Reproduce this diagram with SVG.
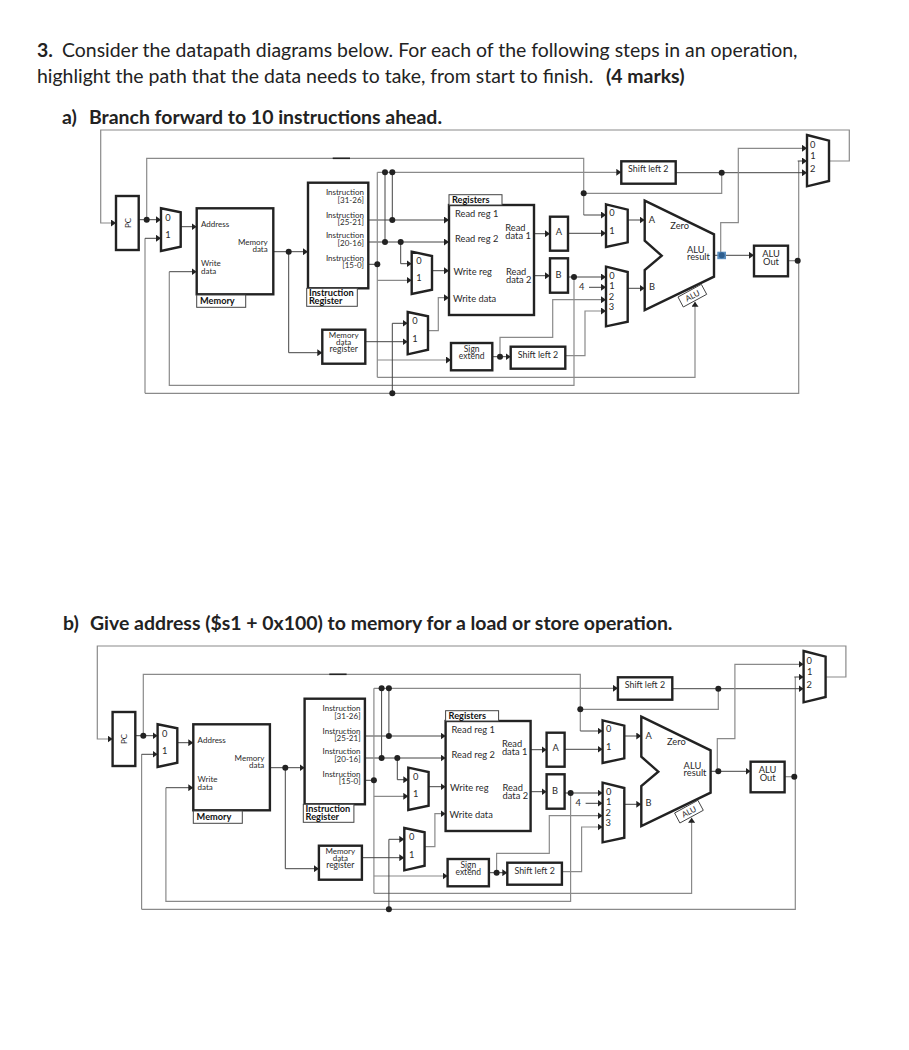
<svg xmlns="http://www.w3.org/2000/svg" width="909" height="1050" viewBox="0 0 909 1050">
<style>
text{font-family:"Lato","Liberation Sans",sans-serif;fill:#2a2a2a}
.h{font-size:19.45px;fill:#222}
.hb{font-size:19.45px;font-weight:700;fill:#222}
.t{font-size:9.3px;dominant-baseline:central}
.s{font-size:8px}
.r{font-size:8.5px}
.m{text-anchor:middle}
.e{text-anchor:end}
.lb{font-size:9.2px;font-weight:700;dominant-baseline:central;fill:#111}
.n{fill:#fff;stroke:#222;stroke-width:2.4;stroke-linejoin:miter}
.l{fill:#fff;stroke:#444;stroke-width:1}
.g{fill:none;stroke:#8a8a8a;stroke-width:1.2}
.d{fill:none;stroke:#444;stroke-width:1}
.a{marker-end:url(#ah)}
.dot{fill:#222}
</style>
<defs>
<marker id="ah" markerUnits="userSpaceOnUse" markerWidth="6" markerHeight="7" refX="5" refY="3.5" orient="auto"><path d="M0 0L5 3.5L0 7Z" fill="#222"/></marker>
</defs>
<rect width="909" height="1050" fill="#fff"/>
<g id="heading">
<text x="37" y="57" class="hb">3.</text>
<text x="62" y="57" class="h">Consider the datapath diagrams below. For each of the following steps in an operation,</text>
<text x="37" y="83" class="h">highlight the path that the data needs to take, from start to finish.</text>
<text x="606" y="83" class="hb">(4 marks)</text>
<text x="62" y="124" class="hb">a)</text>
<text x="89" y="124" class="hb">Branch forward to 10 instructions ahead.</text>
<text x="63" y="630" class="hb">b)</text>
<text x="90" y="630" class="hb">Give address ($s1 + 0x100) to memory for a load or store operation.</text>
</g>

<g id="diagram-a">
<g id="a-connectors">
<path class="g a" d="M829 161H849.3V130H100.7V223H116"/>
<path class="g" d="M146.7 219.7V158.3H583.7V215"/>
<path class="d a" d="M583.7 215H606"/>
<path class="d" d="M332.7 158.3H350" style="stroke-width:1.6;stroke:#222"/>
<path class="d a" d="M138.7 219.7H161"/>
<path class="d a" d="M180.7 226.7H196.7"/>
<path class="g" d="M145 393.3V238.3"/>
<path class="d a" d="M145 238.3H161"/>
<path class="g" d="M145 393.3H798.7V161"/>
<path class="d a" d="M797.7 161H807"/>
<path class="g" d="M788 260.7H797.7"/>
<path class="g" d="M574 277V385.3H169.3V271.7"/>
<path class="d a" d="M169.3 271.7H196.7"/>
<path class="d a" d="M273.3 251.7H308"/>
<path class="d a" d="M288.7 251.7V352.7H322.3"/>
<path class="d a" d="M368.3 220H449"/>
<path class="d" d="M392.3 220V172.3"/>
<path class="d a" d="M368.3 242H449"/>
<path class="d" d="M385 242V172.3"/>
<path class="d a" d="M400.7 242V263.7H411.7"/>
<path class="d" d="M368.3 264.3H377.3"/>
<path class="g" d="M377.3 377.3V172.3"/>
<path class="g a" d="M377.3 172.3H621.3"/>
<path class="g a" d="M377.3 280.3H411.7"/>
<path class="g a" d="M377.3 360H451"/>
<path class="g a" d="M377.3 377.3H695V301.7"/>
<path class="d a" d="M392.3 393.3V323.3H407.7"/>
<path class="d a" d="M365.3 341.7H407.7"/>
<path class="g a" d="M428 330.7H438.3V297.7H449"/>
<path class="d a" d="M432 270.7H449"/>
<path class="d a" d="M534 233.7H550"/>
<path class="d a" d="M534 275.7H550"/>
<path class="d a" d="M568 233.3H606"/>
<path class="d a" d="M627.7 220H644.7"/>
<path class="d a" d="M627.7 288.3H644.7"/>
<path class="d a" d="M568 277H606"/>
<path class="d a" d="M589 287.3H606"/>
<path class="d a" d="M492.3 356.7H510.7"/>
<path class="g a" d="M500 356.7V337.3H552.7V299.7H606"/>
<path class="g a" d="M565.3 355.7H585V311H606"/>
<path class="d a" d="M675.7 172.7H807"/>
<path class="g" d="M583.7 193.3H721.7V172.7"/>
<path class="d a" d="M714 255.3H754"/>
<path class="g a" d="M720.7 255.3V222.7H738.3V148.3H807"/>
<rect x="717.3" y="251.7" width="8.7" height="7.5" fill="#5b8fc0"/>
<circle class="dot" cx="146.7" cy="219.7" r="3"/><circle class="dot" cx="288.7" cy="251.7" r="3"/><circle class="dot" cx="385" cy="172.3" r="3"/><circle class="dot" cx="392.3" cy="172.3" r="3"/><circle class="dot" cx="392.3" cy="220" r="3"/><circle class="dot" cx="385" cy="242" r="3"/><circle class="dot" cx="400.7" cy="242" r="3"/><circle class="dot" cx="377.3" cy="264.3" r="3"/><circle class="dot" cx="392.3" cy="393.3" r="3"/><circle class="dot" cx="583.7" cy="193.3" r="3"/><circle class="dot" cx="721.7" cy="172.7" r="3"/><circle class="dot" cx="574" cy="277" r="3"/><circle class="dot" cx="500" cy="356.7" r="3"/><circle class="dot" cx="797.7" cy="260.7" r="3"/><circle cx="721.7" cy="255.3" r="3" fill="#2f5f8f"/>
</g>
<g id="a-pc"><rect class="n" x="116" y="196" width="22.7" height="54"/><text class="t m s" transform="translate(127.5 223) rotate(-90)">PC</text></g>
<g id="a-mux-pc"><path class="n" d="M161 208.3L180.7 212.3V246.7L161 251Z"/><text class="t m" x="168" y="217">0</text><text class="t m" x="168" y="234.3">1</text></g>
<g id="a-memory"><rect class="n" x="196.7" y="208.3" width="76.6" height="86"/><text class="t s" x="201" y="224">Address</text><text class="t e s" x="267.7" y="241.8">Memory</text><text class="t e s" x="267.7" y="249.2">data</text><text class="t s" x="201" y="263.2">Write</text><text class="t s" x="201" y="270.8">data</text></g>
<g id="a-memory-label"><rect class="l" x="196.7" y="295" width="49" height="12.3"/><text class="lb" x="200" y="300.5">Memory</text></g>
<g id="a-ir"><rect class="n" x="308" y="182.7" width="60.3" height="105.6"/><text class="t e s" x="364" y="192.3">Instruction</text><text class="t e s" x="364" y="199.9">[31-26]</text><text class="t e s" x="364" y="214.6">Instruction</text><text class="t e s" x="364" y="222.2">[25-21]</text><text class="t e s" x="364" y="235.2">Instruction</text><text class="t e s" x="364" y="242.8">[20-16]</text><text class="t e s" x="364" y="257.6">Instruction</text><text class="t e s" x="364" y="265.2">[15-0]</text></g>
<g id="a-ir-label"><rect class="l" x="306.7" y="288.3" width="50.6" height="18"/><text class="lb" x="309" y="292.5">Instruction</text><text class="lb" x="309" y="300.2">Register</text></g>
<g id="a-mdr"><rect class="n" x="322.3" y="329.7" width="43" height="34"/><text class="t m s" x="343.7" y="334.8">Memory</text><text class="t m s" x="343.7" y="341.7">data</text><text class="t m r" x="343.7" y="348.6">register</text></g>
<g id="a-mux-reg"><path class="n" d="M411.7 251.7L432 256V289.7L411.7 294Z"/><text class="t m" x="419" y="260">0</text><text class="t m" x="419" y="277.7">1</text></g>
<g id="a-mux-data"><path class="n" d="M407.7 312L428 316.3V349.7L407.7 354.3Z"/><text class="t m" x="415" y="320.7">0</text><text class="t m" x="415" y="338.3">1</text></g>
<g id="a-registers"><rect class="n" x="449" y="205" width="85" height="110"/><text class="t" x="455" y="213.7">Read reg 1</text><text class="t" x="455" y="238.3">Read reg 2</text><text class="t" x="453.5" y="271.7">Write reg</text><text class="t" x="453" y="298.3">Write data</text><text class="t" x="505.3" y="227.4">Read</text><text class="t" x="505.3" y="235.2">data 1</text><text class="t" x="506" y="271.4">Read</text><text class="t" x="506" y="279">data 2</text></g>
<g id="a-registers-label"><rect class="l" x="449" y="194.7" width="53" height="10.3"/><text class="lb" x="452" y="199.5">Registers</text></g>
<g id="a-reg-a"><rect class="n" x="550" y="216.7" width="18" height="34"/><text class="t m" x="559" y="231.7">A</text></g>
<g id="a-reg-b"><rect class="n" x="550" y="258.3" width="18" height="34.4"/><text class="t m" x="558.5" y="274">B</text></g>
<g id="a-mux-a"><path class="n" d="M606 204.3L627.7 209.7V242.3L606 247Z"/><text class="t m" x="612" y="212.7">0</text><text class="t m" x="612" y="230.3">1</text></g>
<g id="a-mux-b"><path class="n" d="M606 266.7L627.7 272V321.7L606 326.3Z"/><text class="t m" x="612" y="275.7">0</text><text class="t m" x="612" y="285.5">1</text><text class="t m" x="611.5" y="296.7">2</text><text class="t m" x="611.5" y="306.7">3</text></g>
<text id="a-four" class="t m" x="581.7" y="286.3">4</text>
<g id="a-alu"><path class="n" d="M644.7 200.7L714 234.3V276.7L644.7 310V270L661.7 255.7L644.7 240.7Z"/><text class="t m" x="652" y="219">A</text><text class="t m" x="652" y="286.3">B</text><text class="t m" x="679.7" y="225">Zero</text><text class="t" x="687" y="249">ALU</text><text class="t" x="687" y="256.9">result</text></g>
<g id="a-alu-control"><path class="l" d="M678 297L701.3 284.3L706.7 294.3L683.3 307Z"/><text class="t m s" transform="translate(692.3 295.7) rotate(-27)">ALU</text></g>
<g id="a-alu-out"><rect class="n" x="754" y="245.7" width="34" height="30.6"/><text class="t m" x="771" y="253.6">ALU</text><text class="t m" x="771" y="261.3">Out</text></g>
<g id="a-shift-top"><rect class="n" x="621.3" y="161.3" width="54.4" height="22.4"/><text class="t m s" x="648.3" y="168.7" style="font-size:8.9px">Shift left 2</text></g>
<g id="a-mux-pcsrc"><path class="n" d="M807 135L829 140.7V181L807 186.3Z"/><text class="t m" x="812.7" y="144.7">0</text><text class="t m" x="813" y="155.3">1</text><text class="t m" x="812.7" y="168">2</text></g>
<g id="a-sign"><rect class="n" x="451" y="343" width="41.3" height="27.3"/><text class="t m r" x="471.7" y="349">Sign</text><text class="t m r" x="471.7" y="356.3">extend</text></g>
<g id="a-shift-bottom"><rect class="n" x="510.7" y="346.7" width="54.6" height="22"/><text class="t m" x="538" y="354" style="font-size:8.9px">Shift left 2</text></g>
</g>

<g id="diagram-b" transform="translate(-3.4 516)">
<g id="b-connectors">
<path class="g a" d="M829 161H849.3V130H100.7V223H116"/>
<path class="g" d="M146.7 219.7V158.3H583.7V215"/>
<path class="d a" d="M583.7 215H606"/>
<path class="d" d="M332.7 158.3H350" style="stroke-width:1.6;stroke:#222"/>
<path class="d a" d="M138.7 219.7H161"/>
<path class="d a" d="M180.7 226.7H196.7"/>
<path class="g" d="M145 393.3V238.3"/>
<path class="d a" d="M145 238.3H161"/>
<path class="g" d="M145 393.3H798.7V161"/>
<path class="d a" d="M797.7 161H807"/>
<path class="g" d="M788 260.7H797.7"/>
<path class="g" d="M574 277V385.3H169.3V271.7"/>
<path class="d a" d="M169.3 271.7H196.7"/>
<path class="d a" d="M273.3 251.7H308"/>
<path class="d a" d="M288.7 251.7V352.7H322.3"/>
<path class="d a" d="M368.3 220H449"/>
<path class="d" d="M392.3 220V172.3"/>
<path class="d a" d="M368.3 242H449"/>
<path class="d" d="M385 242V172.3"/>
<path class="d a" d="M400.7 242V263.7H411.7"/>
<path class="d" d="M368.3 264.3H377.3"/>
<path class="g" d="M377.3 377.3V172.3"/>
<path class="g a" d="M377.3 172.3H621.3"/>
<path class="g a" d="M377.3 280.3H411.7"/>
<path class="g a" d="M377.3 360H451"/>
<path class="g a" d="M377.3 377.3H695V301.7"/>
<path class="d a" d="M392.3 393.3V323.3H407.7"/>
<path class="d a" d="M365.3 341.7H407.7"/>
<path class="g a" d="M428 330.7H438.3V297.7H449"/>
<path class="d a" d="M432 270.7H449"/>
<path class="d a" d="M534 233.7H550"/>
<path class="d a" d="M534 275.7H550"/>
<path class="d a" d="M568 233.3H606"/>
<path class="d a" d="M627.7 220H644.7"/>
<path class="d a" d="M627.7 288.3H644.7"/>
<path class="d a" d="M568 277H606"/>
<path class="d a" d="M589 287.3H606"/>
<path class="d a" d="M492.3 356.7H510.7"/>
<path class="g a" d="M500 356.7V337.3H552.7V299.7H606"/>
<path class="g a" d="M565.3 355.7H585V311H606"/>
<path class="d a" d="M675.7 172.7H807"/>
<path class="g" d="M583.7 193.3H721.7V172.7"/>
<path class="d a" d="M714 255.3H754"/>
<path class="g a" d="M720.7 255.3V222.7H738.3V148.3H807"/>
<circle class="dot" cx="146.7" cy="219.7" r="3"/><circle class="dot" cx="288.7" cy="251.7" r="3"/><circle class="dot" cx="385" cy="172.3" r="3"/><circle class="dot" cx="392.3" cy="172.3" r="3"/><circle class="dot" cx="392.3" cy="220" r="3"/><circle class="dot" cx="385" cy="242" r="3"/><circle class="dot" cx="400.7" cy="242" r="3"/><circle class="dot" cx="377.3" cy="264.3" r="3"/><circle class="dot" cx="392.3" cy="393.3" r="3"/><circle class="dot" cx="583.7" cy="193.3" r="3"/><circle class="dot" cx="721.7" cy="172.7" r="3"/><circle class="dot" cx="574" cy="277" r="3"/><circle class="dot" cx="500" cy="356.7" r="3"/><circle class="dot" cx="797.7" cy="260.7" r="3"/><circle class="dot" cx="721.7" cy="255.3" r="3"/>
</g>
<g id="b-pc"><rect class="n" x="116" y="196" width="22.7" height="54"/><text class="t m s" transform="translate(127.5 223) rotate(-90)">PC</text></g>
<g id="b-mux-pc"><path class="n" d="M161 208.3L180.7 212.3V246.7L161 251Z"/><text class="t m" x="168" y="217">0</text><text class="t m" x="168" y="234.3">1</text></g>
<g id="b-memory"><rect class="n" x="196.7" y="208.3" width="76.6" height="86"/><text class="t s" x="201" y="224">Address</text><text class="t e s" x="267.7" y="241.8">Memory</text><text class="t e s" x="267.7" y="249.2">data</text><text class="t s" x="201" y="263.2">Write</text><text class="t s" x="201" y="270.8">data</text></g>
<g id="b-memory-label"><rect class="l" x="196.7" y="295" width="49" height="12.3"/><text class="lb" x="200" y="300.5">Memory</text></g>
<g id="b-ir"><rect class="n" x="308" y="182.7" width="60.3" height="105.6"/><text class="t e s" x="364" y="192.3">Instruction</text><text class="t e s" x="364" y="199.9">[31-26]</text><text class="t e s" x="364" y="214.6">Instruction</text><text class="t e s" x="364" y="222.2">[25-21]</text><text class="t e s" x="364" y="235.2">Instruction</text><text class="t e s" x="364" y="242.8">[20-16]</text><text class="t e s" x="364" y="257.6">Instruction</text><text class="t e s" x="364" y="265.2">[15-0]</text></g>
<g id="b-ir-label"><rect class="l" x="306.7" y="288.3" width="50.6" height="18"/><text class="lb" x="309" y="292.5">Instruction</text><text class="lb" x="309" y="300.2">Register</text></g>
<g id="b-mdr"><rect class="n" x="322.3" y="329.7" width="43" height="34"/><text class="t m s" x="343.7" y="334.8">Memory</text><text class="t m s" x="343.7" y="341.7">data</text><text class="t m r" x="343.7" y="348.6">register</text></g>
<g id="b-mux-reg"><path class="n" d="M411.7 251.7L432 256V289.7L411.7 294Z"/><text class="t m" x="419" y="260">0</text><text class="t m" x="419" y="277.7">1</text></g>
<g id="b-mux-data"><path class="n" d="M407.7 312L428 316.3V349.7L407.7 354.3Z"/><text class="t m" x="415" y="320.7">0</text><text class="t m" x="415" y="338.3">1</text></g>
<g id="b-registers"><rect class="n" x="449" y="205" width="85" height="110"/><text class="t" x="455" y="213.7">Read reg 1</text><text class="t" x="455" y="238.3">Read reg 2</text><text class="t" x="453.5" y="271.7">Write reg</text><text class="t" x="453" y="298.3">Write data</text><text class="t" x="505.3" y="227.4">Read</text><text class="t" x="505.3" y="235.2">data 1</text><text class="t" x="506" y="271.4">Read</text><text class="t" x="506" y="279">data 2</text></g>
<g id="b-registers-label"><rect class="l" x="449" y="194.7" width="53" height="10.3"/><text class="lb" x="452" y="199.5">Registers</text></g>
<g id="b-reg-a"><rect class="n" x="550" y="216.7" width="18" height="34"/><text class="t m" x="559" y="231.7">A</text></g>
<g id="b-reg-b"><rect class="n" x="550" y="258.3" width="18" height="34.4"/><text class="t m" x="558.5" y="274">B</text></g>
<g id="b-mux-a"><path class="n" d="M606 204.3L627.7 209.7V242.3L606 247Z"/><text class="t m" x="612" y="212.7">0</text><text class="t m" x="612" y="230.3">1</text></g>
<g id="b-mux-b"><path class="n" d="M606 266.7L627.7 272V321.7L606 326.3Z"/><text class="t m" x="612" y="275.7">0</text><text class="t m" x="612" y="285.5">1</text><text class="t m" x="611.5" y="296.7">2</text><text class="t m" x="611.5" y="306.7">3</text></g>
<text id="b-four" class="t m" x="581.7" y="286.3">4</text>
<g id="b-alu"><path class="n" d="M644.7 200.7L714 234.3V276.7L644.7 310V270L661.7 255.7L644.7 240.7Z"/><text class="t m" x="652" y="219">A</text><text class="t m" x="652" y="286.3">B</text><text class="t m" x="679.7" y="225">Zero</text><text class="t" x="687" y="249">ALU</text><text class="t" x="687" y="256.9">result</text></g>
<g id="b-alu-control"><path class="l" d="M678 297L701.3 284.3L706.7 294.3L683.3 307Z"/><text class="t m s" transform="translate(692.3 295.7) rotate(-27)">ALU</text></g>
<g id="b-alu-out"><rect class="n" x="754" y="245.7" width="34" height="30.6"/><text class="t m" x="771" y="253.6">ALU</text><text class="t m" x="771" y="261.3">Out</text></g>
<g id="b-shift-top"><rect class="n" x="621.3" y="161.3" width="54.4" height="22.4"/><text class="t m" x="648.3" y="168.7" style="font-size:8.9px">Shift left 2</text></g>
<g id="b-mux-pcsrc"><path class="n" d="M807 135L829 140.7V181L807 186.3Z"/><text class="t m" x="812.7" y="144.7">0</text><text class="t m" x="813" y="155.3">1</text><text class="t m" x="812.7" y="168">2</text></g>
<g id="b-sign"><rect class="n" x="451" y="343" width="41.3" height="27.3"/><text class="t m r" x="471.7" y="349">Sign</text><text class="t m r" x="471.7" y="356.3">extend</text></g>
<g id="b-shift-bottom"><rect class="n" x="510.7" y="346.7" width="54.6" height="22"/><text class="t m" x="538" y="354" style="font-size:8.9px">Shift left 2</text></g>
</g>
</svg>
